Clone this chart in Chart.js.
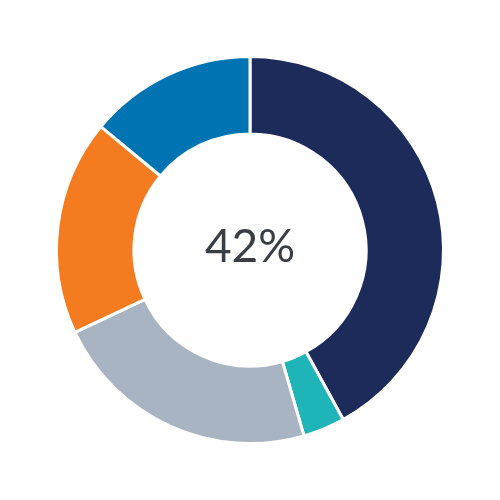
<!DOCTYPE html>
<html>
<head>
<meta charset="utf-8">
<script src="https://cdn.jsdelivr.net/npm/chart.js@4"></script>
<style>
    body { margin: 0; background: #fff; }
    #wrap { width: 500px; height: 500px; }
</style>
</head>
<body>
<div id="wrap"><canvas id="myChart"></canvas></div>
<script>
const labels = ["A", "B", "C", "D", "E"];
const values = [42, 3.5, 22.5, 18, 14];
const colors = ["#1c2b5a", "#1fb5b8", "#a9b4c2", "#f47b20", "#0074b3"];
const centerText = "42%";

const centerLabel = {
    id: "centerLabel",
    afterDraw(chart) {
        const ctx = chart.ctx;
        const meta = chart.getDatasetMeta(0).data[0];
        ctx.save();
        ctx.font = "400 46px Lato";
        ctx.fillStyle = "#3a3f45";
        ctx.textAlign = "center";
        ctx.textBaseline = "middle";
        ctx.fillText(centerText, meta.x, meta.y - 3);
        ctx.restore();
    }
};

const ctx = document.getElementById("myChart");

const myChart = new Chart(ctx, {
    type: "doughnut",
    data: {
        labels: labels,
        datasets: [
            {
                data: values,
                backgroundColor: colors,
                borderColor: "#ffffff",
                borderWidth: 3,
            },
        ],
    },
    options: {
        responsive: true,
        maintainAspectRatio: false,
        animation: false,
        cutout: "60%",
        layout: { padding: 55 },
        plugins: {
            legend: { display: false },
            tooltip: { enabled: false }
        }
    },
    plugins: [centerLabel]
});
</script>
</body>
</html>
